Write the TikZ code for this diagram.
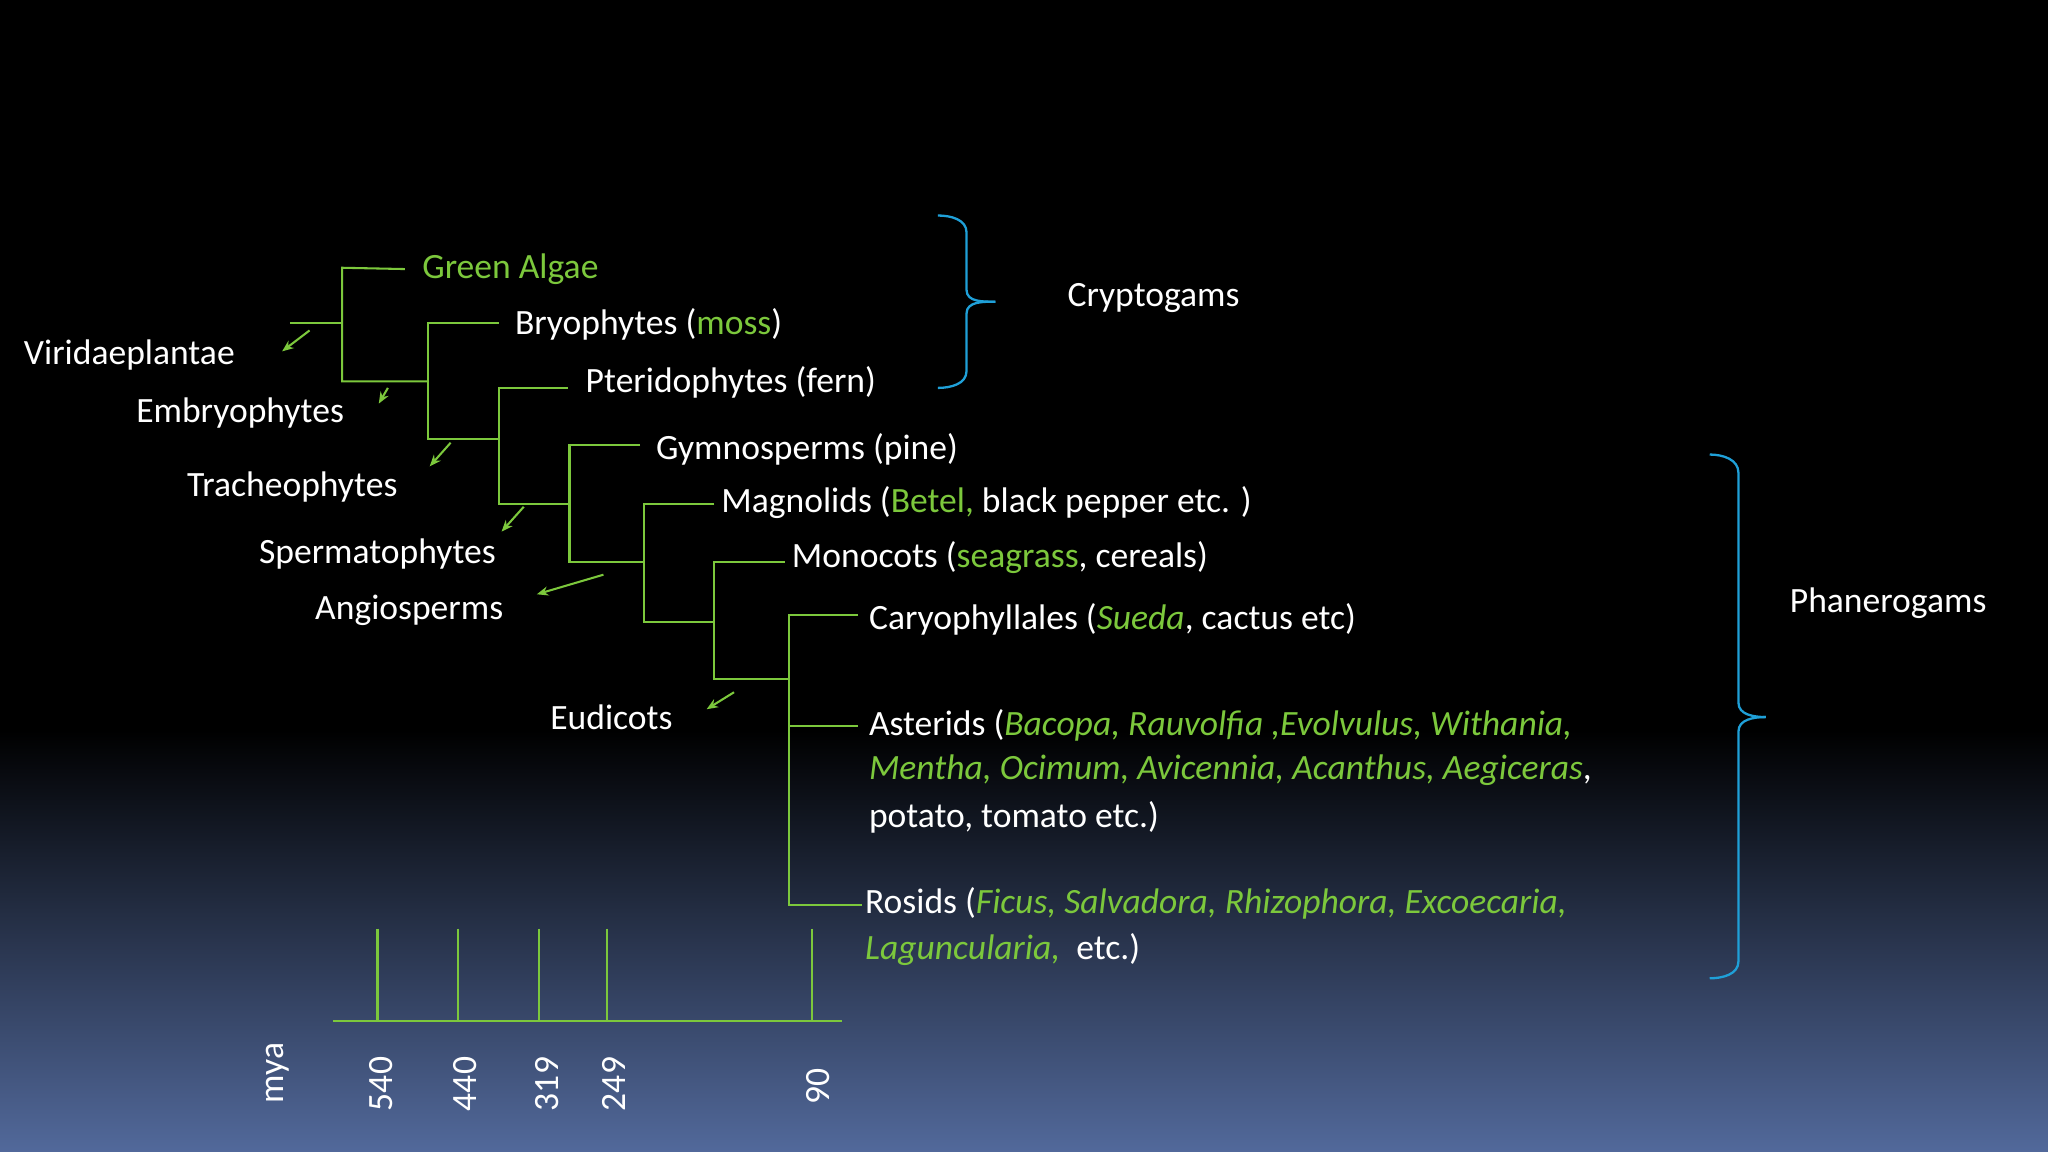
\documentclass[tikz,border=0pt]{standalone}
\usepackage{fontspec}
\setmainfont{Carlito}
\usetikzlibrary{arrows.meta}
\definecolor{grn}{HTML}{7CC83C}
\definecolor{brc}{HTML}{1FA0D8}
\definecolor{bot}{HTML}{52699B}
\tikzset{br/.style={grn,line width=0.9pt},
 lab/.style={white,anchor=west,inner sep=0pt,font=\fontsize{15.5}{19}\selectfont},
 arr/.style={grn,line width=0.9pt,-{Stealth[length=5pt,width=4pt]}},
 brace/.style={brc,line width=1pt}}
\begin{document}
\begin{tikzpicture}[x=0.02cm,y=-0.02cm]
\useasboundingbox (0,0) rectangle (1568,882);
\fill[black] (0,0) rectangle (1568,560);
\shade[top color=black,bottom color=bot] (0,559) rectangle (1568,882);
% tree
\draw[br] (310,206)--(262,205)--(262,292)--(328,292);
\draw[br] (222,247)--(262,247);
\draw[br] (382,247)--(328,247)--(328,336)--(382,336);
\draw[br] (435,297)--(382,297)--(382,386)--(436,386);
\draw[br] (490,341)--(436,341)--(436,430)--(492,430);
\draw[br] (547,386)--(493,386)--(493,476)--(547,476);
\draw[br] (601,430)--(547,430)--(547,520)--(604,520);
\draw[br] (657,471)--(604,471)--(604,693)--(660,693);
\draw[br] (604,556)--(657,556);
% arrows
\draw[arr] (237,253)--(216,269);
\draw[arr] (297,297)--(290,309);
\draw[arr] (345,339)--(329,357);
\draw[arr] (401,388)--(384,407);
\draw[arr] (462,440)--(411,455);
\draw[arr] (562,530)--(541,543);
% left labels
\node[lab] (v) at (18,272) {Viridaeplantae};
\node[lab] (e) at (104,316) {Embryophytes};
\node[lab] (t) at (143,373) {Tracheophytes};
\node[lab] (s) at (198,424) {Spermatophytes};
\node[lab] (a) at (241,467) {Angiosperms};
\node[lab] (eu) at (421,549) {Eudicots};
% right labels
\node[lab,grn] (ga) at (323,206) {Green Algae};
\node[lab] (bry) at (394,248) {Bryophytes (\textcolor{grn}{moss})};
\node[lab] (pt) at (448,293) {Pteridophytes (fern)};
\node[lab] (gy) at (502,344) {Gymnosperms (pine)};
\node[lab] (ma) at (552,385) {Magnolids (\textcolor{grn}{Betel,} black pepper etc. )};
\node[lab] (mo) at (606,427) {Monocots (\textcolor{grn}{seagrass}, cereals)};
\node[lab] (ca) at (665,474) {Caryophyllales (\textcolor{grn}{\itshape Sueda}, cactus etc)};
\node[lab] (as1) at (665,555) {Asterids (\textcolor{grn}{\itshape Bacopa, Rauvolfia ,Evolvulus, Withania,}};
\node[lab] (as2) at (665,590) {\textcolor{grn}{\itshape Mentha, Ocimum, Avicennia, Acanthus, Aegiceras}, };
\node[lab] (as3) at (665,626) {potato, tomato etc.)};
\node[lab] (ro1) at (662,692) {Rosids (\textcolor{grn}{\itshape Ficus, Salvadora, Rhizophora, Excoecaria,}};
\node[lab] (ro2) at (662,727) {\textcolor{grn}{\itshape Laguncularia,}\ \ etc.)};
% braces
\draw[brace] (718,165) to[out=0,in=90] (740,178) -- (740,222) to[out=-90,in=180] (762,231);
\draw[brace] (762,231) to[out=180,in=90] (740,240) -- (740,284) to[out=-90,in=0] (718,297);
\node[lab] (cr) at (817,228) {Cryptogams};
\draw[brace] (1309,348) to[out=0,in=90] (1331,362) -- (1331,538) to[out=-90,in=180] (1352,549);
\draw[brace] (1352,549) to[out=180,in=90] (1331,560) -- (1331,736) to[out=-90,in=0] (1309,749);
\node[lab] (ph) at (1370,462) {Phanerogams};
% axis
\draw[br] (255,782)--(645,782);
\foreach \x in {289,351,413,465,622} \draw[br] (\x,711)--(\x,782);
\node[lab,rotate=90] (mya) at (213,845) {mya};
\node[lab,rotate=90] (t540) at (292,851) {540};
\node[lab,rotate=90] (t440) at (356,851) {440};
\node[lab,rotate=90] (t319) at (419,851) {319};
\node[lab,rotate=90] (t249) at (470,851) {249};
\node[lab,rotate=90] (t90) at (626,846) {90};
\end{tikzpicture}
\end{document}
